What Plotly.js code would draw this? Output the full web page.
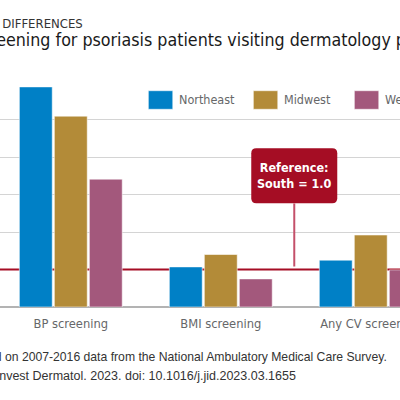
<!DOCTYPE html>
<html>
<head>
<meta charset="utf-8">
<script src="https://cdn.plot.ly/plotly-3.0.1.min.js"></script>
<style>
  html, body { margin: 0; padding: 0; background: #fff; }
  #chart { width: 400px; height: 400px; }
</style>
</head>
<body>
<div id="chart"></div>
<script>
// screening odds by region, reference = South (1.0)
const categories = ["BP screening", "BMI screening", "Any CV screening"];
const regions = ["Northeast", "Midwest", "West"];
const northeast = [5.87, 1.07, 1.25];
const midwest = [5.09, 1.40, 1.92];
const west = [3.41, 0.75, 0.99];
const referenceValue = 1.0;
const gridValues = [0, 2, 3, 4, 5, 6]; // 1.0 is drawn by the reference line

const colors = ["#0080c6", "#b38b38", "#a3587c"];
const NARROW = '"Liberation Sans Narrow", "DejaVu Sans Condensed", "Roboto Condensed", sans-serif';
const SANS = '"Liberation Sans", Arial, sans-serif';

// plot area in pixels (chart is cropped on both sides)
const W = 400, TOP = 82, BOTTOM = 307;
const px = (p) => p / W;
const py = (p) => (BOTTOM - p) / (BOTTOM - TOP);

let series = [northeast, midwest, west];
let data = series.map((vals, i) => ({
  type: "bar",
  name: regions[i],
  x: categories,
  y: vals,
  marker: { color: colors[i], line: { color: "rgba(255,255,255,0.55)", width: 1 } },
  showlegend: false,
  hoverinfo: "x+y+name",
}));

// hand-made legend with the big swatches
const legendX = [148.3, 253.3, 354.3];
let shapes = [];
let annotations = [];
regions.forEach((name, i) => {
  let x0 = legendX[i];
  shapes.push({
    type: "rect", xref: "paper", yref: "paper",
    x0: px(x0), x1: px(x0 + 24.5), y0: py(109.3), y1: py(90.7),
    fillcolor: colors[i], line: { color: "rgba(255,255,255,0.6)", width: 1 },
  });
  annotations.push({
    xref: "paper", yref: "paper", x: px(x0 + 29), y: py(100),
    xanchor: "left", yanchor: "middle", showarrow: false,
    text: name, font: { family: NARROW, size: 12.5, color: "#666769" },
  });
});

// reference line at South = 1.0
shapes.push({
  type: "line", xref: "paper", yref: "y", x0: 0, x1: 1,
  y0: referenceValue, y1: referenceValue,
  line: { color: "#a50d24", width: 1.8 }, layer: "below",
});

// callout box + connector
const calloutX = 1.49, calloutY = 3.5;
shapes.push({
  type: "line", xref: "x", yref: "y",
  x0: calloutX, x1: calloutX, y0: 2.76, y1: 1.08,
  line: { color: "#c4506a", width: 2 },
});
shapes.push({
  type: "path", xref: "x", yref: "y",
  xsizemode: "pixel", ysizemode: "pixel", xanchor: calloutX, yanchor: calloutY,
  path: "M -38,-27.5 L 38,-27.5 Q 43,-27.5 43,-22.5 L 43,22.5 Q 43,27.5 38,27.5 " +
        "L -38,27.5 Q -43,27.5 -43,22.5 L -43,-22.5 Q -43,-27.5 -38,-27.5 Z",
  fillcolor: "#a50d24", line: { width: 0 },
});
annotations.push({
  xref: "x", yref: "y", x: calloutX, y: calloutY, showarrow: false,
  text: "Reference:<br>South = " + referenceValue.toFixed(1),
  font: { family: NARROW, size: 12.5, color: "#ffffff", weight: "bold" },
  align: "center",
});

// headings and notes (cut off by the crop)
annotations.push({
  xref: "paper", yref: "paper", x: px(85), y: py(24), xanchor: "right", yanchor: "middle",
  showarrow: false, text: "REGIONAL DIFFERENCES",
  font: { family: NARROW, size: 13, color: "#333333" },
});
annotations.push({
  xref: "paper", yref: "paper", x: px(-29), y: py(39.5), xanchor: "left", yanchor: "middle",
  showarrow: false, text: "screening for psoriasis patients visiting dermatology providers",
  font: { family: NARROW, size: 17.7, color: "#1a1a1a" },
});
annotations.push({
  xref: "paper", yref: "paper", x: px(389), y: py(356.7), xanchor: "right", yanchor: "middle",
  showarrow: false, text: "Based on 2007-2016 data from the National Ambulatory Medical Care Survey.",
  font: { family: SANS, size: 12.2, color: "#333333" },
});
annotations.push({
  xref: "paper", yref: "paper", x: px(298), y: py(376), xanchor: "right", yanchor: "middle",
  showarrow: false, text: "J Invest Dermatol. 2023. doi: 10.1016/j.jid.2023.03.1655",
  font: { family: SANS, size: 12.5, color: "#333333" },
});

let layout = {
  width: 400,
  height: 400,
  paper_bgcolor: "#ffffff",
  plot_bgcolor: "#ffffff",
  margin: { l: 0, r: 0, t: TOP, b: 400 - BOTTOM, pad: 0 },
  barmode: "group",
  bargap: 0.3,
  bargroupgap: 0.06,
  showlegend: false,
  xaxis: {
    type: "category",
    range: [-0.472, 2.195],
    showgrid: false,
    zeroline: false,
    showline: false,
    ticks: "",
    ticklabelstandoff: 7,
    tickfont: { family: NARROW, size: 12.8, color: "#666769" },
    fixedrange: true,
  },
  yaxis: {
    range: [0, 6],
    tickmode: "array",
    tickvals: gridValues,
    showgrid: true,
    gridcolor: "#d4d4d4",
    gridwidth: 1,
    zeroline: true,
    zerolinecolor: "#b3b3b3",
    zerolinewidth: 2,
    showticklabels: false,
    ticks: "",
    fixedrange: true,
  },
  shapes: shapes,
  annotations: annotations,
};

Plotly.newPlot("chart", data, layout, { displayModeBar: false, staticPlot: true });
</script>
</body>
</html>
